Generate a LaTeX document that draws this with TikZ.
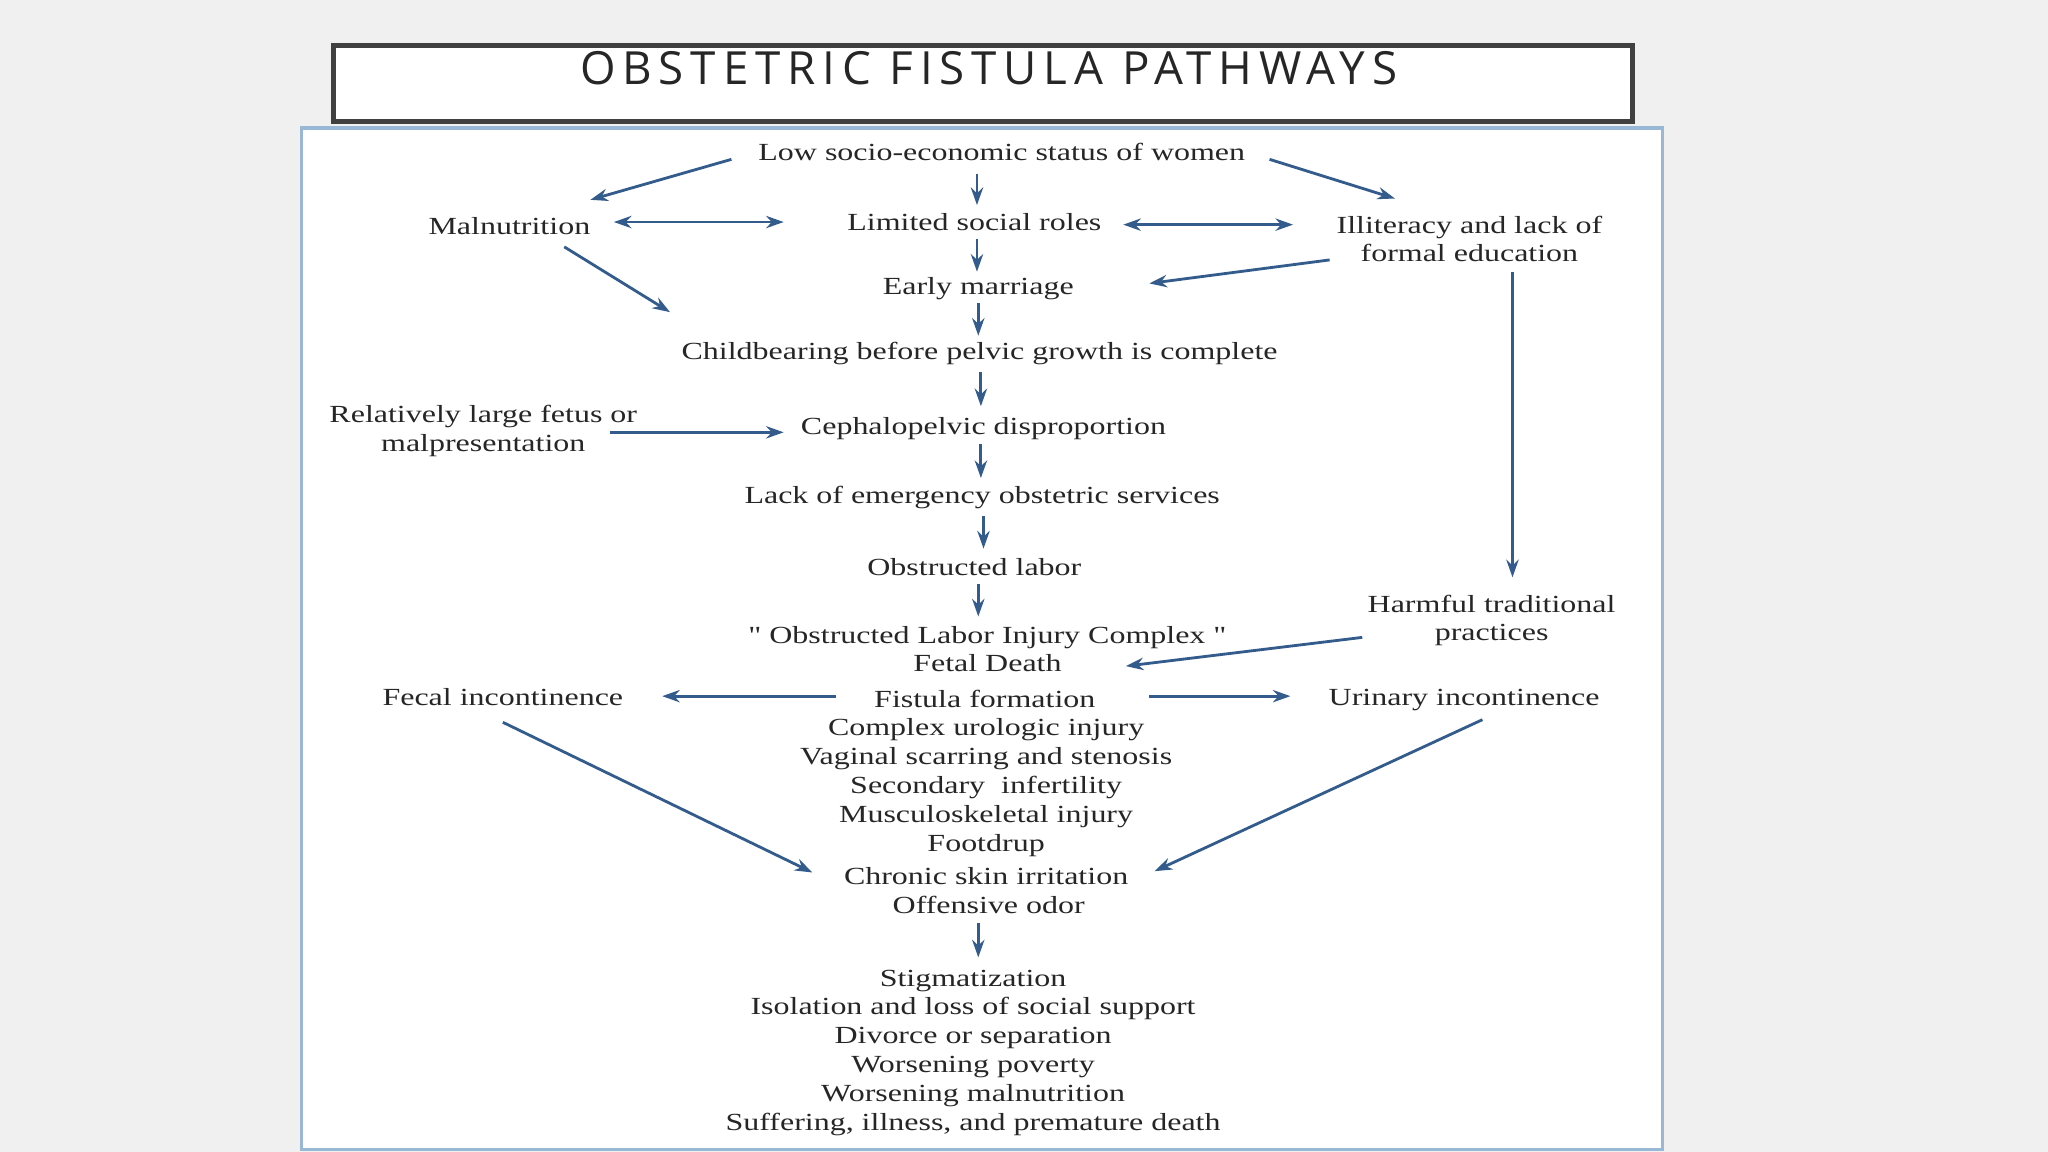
\documentclass[tikz,border=0pt]{standalone}
\usepackage{fontspec}
\setmainfont{Liberation Serif}
\newfontfamily\figfont[FakeStretch=1.3]{Liberation Serif}
\newfontfamily\titlefont[LetterSpace=15]{Open Sans}
\usepackage{tikz}
\usetikzlibrary{arrows.meta,positioning}
\definecolor{slide gray}{rgb}{0.941, 0.941, 0.941}
\definecolor{panel blue}{rgb}{0.60, 0.72, 0.84}
\definecolor{arrow blue}{rgb}{0.20, 0.36, 0.55}

\tikzset{
  box/.style={font=\figfont\fontsize{7}{8.2}\selectfont, align=center, inner sep=1pt, text=black!85},
  arr/.style={arrow blue, line width=0.8pt, -{Stealth[length=5pt,width=3.5pt]}},
  darr/.style={arr, {Stealth[length=5pt,width=3.5pt]}-{Stealth[length=5pt,width=3.5pt]}}
}

\begin{document}
\begin{tikzpicture}[x=0.01306cm, y=-0.01306cm]
			% slide and panels
			\fill[slide gray] (0, 0) rectangle (1568, 882);
			\useasboundingbox (0, 0) rectangle (1568, 882);
			\draw[black!75, line width=1.4pt, fill=white] (255, 35) rectangle (1250, 93);
			\node[font=\titlefont\fontsize{13}{15}\selectfont, text=black!85] (title) at (757, 52) {OBSTETRIC FISTULA PATHWAYS};
			\draw[panel blue, line width=0.9pt, fill=white] (231, 98) rectangle (1273, 880);
			% nodes
			\node[box] (low) at (767, 116) {Low socio-economic status of women};
			\node[box] (mal) at (390, 173) {Malnutrition};
			\node[box] (lim) at (746, 170) {Limited social roles};
			\node[box] (ill) at (1125, 183) {Illiteracy and lack of\\formal education};
			\node[box] (early) at (749, 221) {Early marriage};
			\node[box] (child) at (750, 271) {Childbearing before pelvic growth is complete};
			\node[box] (large) at (370, 330) {Relatively large fetus or\\malpresentation};
			\node[box] (ceph) at (753, 328) {Cephalopelvic disproportion};
			\node[box] (lack) at (752, 381) {Lack of emergency obstetric services};
			\node[box] (obs) at (746, 434) {Obstructed labor};
			\node[box] (olic) at (756, 497) {\symbol{34} Obstructed Labor Injury Complex \symbol{34}\\Fetal Death};
			\node[box] (harm) at (1142, 475) {Harmful traditional\\practices};
			\node[box] (fist) at (754, 535) {Fistula formation};
			\node[box] (fecal) at (385, 534) {Fecal incontinence};
			\node[box] (urin) at (1121, 536) {Urinary incontinence};
			\node[box] (inj) at (755, 603) {Complex urologic injury\\Vaginal scarring and stenosis\\Secondary\ \ infertility\\Musculoskeletal injury\\Footdrup};
			\node[box] (chron) at (755, 671) {Chronic skin irritation};
			\node[box] (odor) at (757, 693) {Offensive odor};
			\node[box] (stig) at (745, 806) {Stigmatization\\Isolation and loss of social support\\Divorce or separation\\Worsening poverty\\Worsening malnutrition\\Suffering, illness, and premature death};
			% connector ends
			\coordinate (lowW) at (560, 122);   \coordinate (malNE) at (452, 153);
			\coordinate (lowS) at (748, 133);   \coordinate (limN) at (748, 157);
			\coordinate (lowE) at (972, 122);   \coordinate (illN) at (1068, 152);
			\coordinate (malE) at (470, 170);   \coordinate (limW) at (600, 170);
			\coordinate (limE) at (860, 172);   \coordinate (illW) at (990, 172);
			\coordinate (limS) at (748, 183);   \coordinate (earlyN) at (748, 208);
			\coordinate (illSW) at (1018, 199); \coordinate (earlyE) at (880, 217);
			\coordinate (malS) at (432, 189);   \coordinate (childNW) at (513, 239);
			\coordinate (earlyS) at (749, 232); \coordinate (childN) at (749, 257);
			\coordinate (childS) at (751, 285); \coordinate (cephN) at (751, 311);
			\coordinate (largeE) at (467, 331); \coordinate (cephW) at (600, 331);
			\coordinate (cephS) at (751, 340); \coordinate (lackN) at (751, 366);
			\coordinate (lackS) at (753, 395); \coordinate (obsN) at (753, 420);
			\coordinate (obsS) at (749, 447);  \coordinate (olicN) at (749, 472);
			\coordinate (illS) at (1158, 208); \coordinate (harmN) at (1158, 442);
			\coordinate (harmW) at (1043, 488); \coordinate (fetalE) at (862, 510);
			\coordinate (fistW) at (640, 533); \coordinate (fecalE) at (507, 533);
			\coordinate (fistE) at (880, 533); \coordinate (urinW) at (988, 533);
			\coordinate (fecalS) at (385, 553); \coordinate (chronW) at (622, 668);
			\coordinate (urinS) at (1135, 551); \coordinate (chronE) at (884, 667);
			\coordinate (odorS) at (749, 707);  \coordinate (stigN) at (749, 733);
			% connectors
			\draw[arr] (lowW) -- (malNE);
			\draw[arr] (lowS) -- (limN);
			\draw[arr] (lowE) -- (illN);
			\draw[darr] (malE) -- (limW);
			\draw[darr] (limE) -- (illW);
			\draw[arr] (limS) -- (earlyN);
			\draw[arr] (illSW) -- (earlyE);
			\draw[arr] (malS) -- (childNW);
			\draw[arr] (earlyS) -- (childN);
			\draw[arr] (childS) -- (cephN);
			\draw[arr] (largeE) -- (cephW);
			\draw[arr] (cephS) -- (lackN);
			\draw[arr] (lackS) -- (obsN);
			\draw[arr] (obsS) -- (olicN);
			\draw[arr] (illS) -- (harmN);
			\draw[arr] (harmW) -- (fetalE);
			\draw[arr] (fistW) -- (fecalE);
			\draw[arr] (fistE) -- (urinW);
			\draw[arr] (fecalS) -- (chronW);
			\draw[arr] (urinS) -- (chronE);
			\draw[arr] (odorS) -- (stigN);
		\end{tikzpicture}
\end{document}
